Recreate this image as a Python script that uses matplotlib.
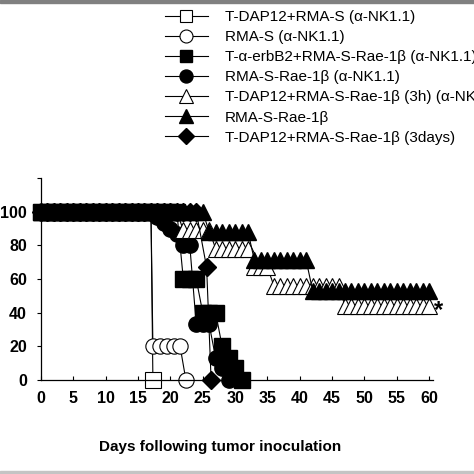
import matplotlib
matplotlib.use('Agg')
import matplotlib.pyplot as plt
from matplotlib.patches import Rectangle

plt.rcParams['font.family'] = ['Liberation Sans', 'DejaVu Sans']

# survival curves, % alive vs days
labels = ['T-DAP12+RMA-S (\u03b1-NK1.1)',
          'RMA-S (\u03b1-NK1.1)',
          'T-\u03b1-erbB2+RMA-S-Rae-1\u03b2 (\u03b1-NK1.1)',
          'RMA-S-Rae-1\u03b2 (\u03b1-NK1.1)',
          'T-DAP12+RMA-S-Rae-1\u03b2 (3h) (\u03b1-NK1.1)',
          'RMA-S-Rae-1\u03b2',
          'T-DAP12+RMA-S-Rae-1\u03b2 (3days)']

open_sq_days = list(range(0, 18)) + [17.3]
open_sq_vals = [100] * 18 + [0]

open_circ_days = list(range(0, 18)) + [17.3, 18.4, 19.5, 20.5, 21.5, 22.4]
open_circ_vals = [100] * 18 + [20] * 5 + [0]

erbb2_days = list(range(0, 32))
erbb2_vals = [100] * 22 + [60, 60, 60, 40, 40, 40, 20, 13, 7, 0]

rae_nk_days = list(range(0, 30))
rae_nk_vals = [100] * 18 + [97, 93, 90, 87, 80, 80, 33, 33, 33, 13, 7, 0]

dap3h_days = list(range(0, 61))
dap3h_vals = [100] * 22 + [89] * 5 + [78] * 6 + [67] * 3 + [56] * 11 + [44] * 14

rae_days = list(range(0, 61))
rae_vals = [100] * 26 + [88] * 7 + [71] * 9 + [53] * 19

dap3d_days = list(range(0, 25)) + [25.6, 26.3]
dap3d_vals = [100] * 25 + [67, 0]

fig = plt.figure(figsize=(4.74, 4.74), dpi=100)
ax = fig.add_axes([41 / 474, 1 - 380 / 474, 392 / 474, 202 / 474])

kw = dict(color='black', lw=0.8, clip_on=False)
ax.plot(open_sq_days, open_sq_vals, marker='s', ms=11, mfc='white', mec='black', mew=0.8, label=labels[0], **kw)
ax.plot(open_circ_days, open_circ_vals, marker='o', ms=11, mfc='white', mec='black', mew=0.8, label=labels[1], **kw)
ax.plot(erbb2_days, erbb2_vals, marker='s', ms=11, mfc='black', mec='black', label=labels[2], **kw)
ax.plot(rae_nk_days, rae_nk_vals, marker='o', ms=11, mfc='black', mec='black', label=labels[3], **kw)
ax.plot(dap3h_days, dap3h_vals, marker='^', ms=12, mfc='white', mec='black', mew=0.8, label=labels[4], **kw)
ax.plot(rae_days, rae_vals, marker='^', ms=12, mfc='black', mec='black', label=labels[5], **kw)
ax.plot(dap3d_days, dap3d_vals, marker='D', ms=9, mfc='black', mec='black', label=labels[6], **kw)

ax.text(61.4, 37.5, '*', fontsize=17, fontweight='bold', ha='center', va='baseline')

ax.set_xlim(0, 60.6)
ax.set_ylim(0, 120)
ax.set_xticks(range(0, 61, 5))
ax.set_yticks(range(0, 121, 20))
ax.set_yticklabels(['0', '20', '40', '60', '80', '100', ''])
for s in ['top', 'right']:
    ax.spines[s].set_visible(False)
for s in ['left', 'bottom']:
    ax.spines[s].set_linewidth(0.9)
ax.tick_params(axis='x', direction='in', length=3, width=0.8, labelsize=11.5, pad=8)
ax.tick_params(axis='y', direction='out', length=3, width=0.8, labelsize=11.5, pad=7)
for t in ax.get_xticklabels() + ax.get_yticklabels():
    t.set_fontweight('bold')

fig.text(220 / 474, 1 - 447 / 474, 'Days following tumor inoculation',
         fontsize=11, fontweight='bold', ha='center', va='center')

ax.legend(loc='upper left', bbox_to_anchor=(165 / 474, 1 - 10 / 474),
          bbox_transform=fig.transFigure, frameon=False, fontsize=11,
          borderpad=0, borderaxespad=0, handlelength=2.8, handletextpad=1.1,
          labelspacing=0.4, markerscale=0.85)

# image border bands
fig.patches.append(Rectangle((0, 1 - 3 / 474), 1, 3 / 474, color='#808080',
                             transform=fig.transFigure, figure=fig))
fig.patches.append(Rectangle((0, 0), 1, 3 / 474, color='#c4c4c4',
                             transform=fig.transFigure, figure=fig))

fig.savefig('out.png', dpi=100)
